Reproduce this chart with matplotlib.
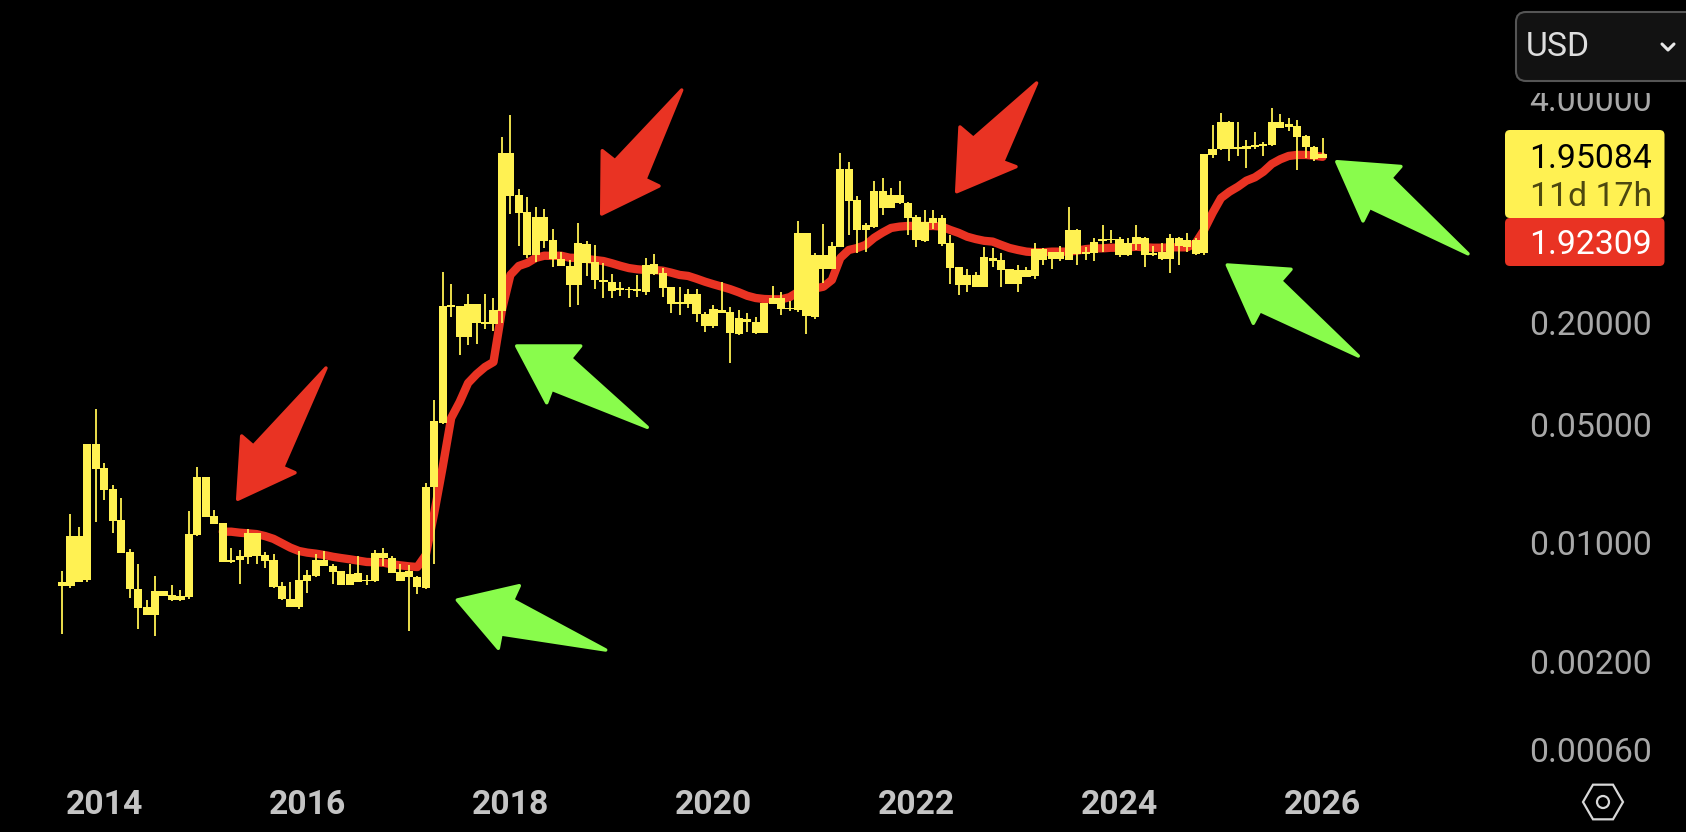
import numpy as np
import matplotlib
matplotlib.use('Agg')
import matplotlib.pyplot as plt
from matplotlib.patches import Polygon, FancyBboxPatch, RegularPolygon, Circle

plt.rcParams['font.family'] = ['Roboto', 'DejaVu Sans']

# monthly candles, first one is Aug 2013
high = [
    .00689, .01484, .01249, .03867, .06198, .02971, .02202, .01853, .00934, .00761,
    .00463, .00643, .00484, .00572, .0053, .01552, .02813, .02456, .01573, .0132,
    .00938, .00921, .0121, .01151, .00896, .00872, .00596, .0059, .00904, .00701,
    .00872, .00908, .00761, .00688, .00761, .00849, .00649, .00921, .00945, .00841,
    .00754, .00745, .00641, .02263, .07039, .402, .343, .252, .2996, .2615,
    .2996, .2837, 2.505, 3.38, 1.245, 1.107, .975, .94, .716, .5285,
    .472, .777, .6134, .5757, .455, .3895, .3485, .3285, .3843, .483,
    .5125, .4245, .3285, .3285, .3193, .3193, .233, .256, .3509, .25,
    .239, .2304, .218, .2642, .3317, .3078, .2693, .798, .686, .5217,
    .767, .6055, 2.016, 1.784, 1.128, .778, 1.378, 1.435, 1.253, 1.378,
    1.044, .871, .932, .932, .871, .663, .4308, .4157, .4027, .566,
    .5535, .5171, .4157, .4407, .4272, .5925, .5535, .5287, .5739, .967,
    .7165, .5609, .634, .76, .71, .6484, .634, .76, .6484, .5725,
    .5925, .6716, .6484, .6787, .634, 1.997, 2.963, 3.473, 3.14, 3.073,
    2.416, 2.706, 2.361, 3.716, 3.442, 3.245, 3.172, 2.6, 2.227, 2.472,
]
body_top = [
    .00593, .01105, .01105, .03867, .03867, .02788, .02104, .01374, .00888, .00542,
    .00421, .00523, .00523, .00495, .00488, .01135, .02456, .02456, .0145, .01313,
    .00804, .00841, .01151, .01151, .00853, .00796, .00562, .00473, .00607, .00649,
    .00796, .00796, .00741, .00688, .00664, .00671, .00612, .00884, .00884, .00826,
    .0068, .00684, .00631, .02143, .05264, .252, .2546, .252, .2615, .2615,
    .2027, .239, 2.015, 2.015, 1.137, .907, .843, .843, .619, .478,
    .436, .5916, .586, .46, .3625, .3525, .3223, .3207, .318, .443,
    .447, .3984, .3285, .2665, .2996, .2996, .2283, .2422, .239, .233,
    .2136, .2117, .2045, .2642, .2837, .2837, .2477, .678, .686, .5031,
    .505, .5725, 1.629, 1.629, 1.068, .76, 1.208, 1.208, 1.144, 1.144,
    1.03, .8435, .7956, .832, .836, .5925, .4308, .3836, .3836, .4945,
    .4833, .4727, .4157, .4119, .4119, .5465, .5465, .5287, .5287, .71,
    .71, .5264, .6055, .6265, .6265, .6265, .5925, .6425, .634, .5216,
    .5264, .6366, .6366, .62, .62, 1.997, 2.129, 3.073, 3.073, 2.187,
    2.227, 2.257, 2.288, 3.073, 3.073, 2.99, 2.929, 2.548, 2.187, 1.997,
]
body_bottom = [
    .00562, .00562, .00593, .00607, .02763, .02067, .01361, .0088, .00537, .00415,
    .00378, .00378, .00488, .00463, .00463, .0048, .0112, .01437, .01307, .00779,
    .00779, .00796, .00833, .00845, .00789, .00552, .00469, .00422, .00421, .00602,
    .00643, .00737, .0068, .0057, .0057, .0059, .00602, .00602, .00822, .00671,
    .00602, .00635, .00554, .00549, .02143, .0515, .25, .166, .165, .2009,
    .1972, .1972, .2368, 1.127, .899, .505, .505, .6134, .476, .436,
    .337, .337, .455, .359, .3525, .3107, .3135, .3135, .3107, .3051,
    .393, .3238, .2593, .2615, .2615, .2283, .1919, .1919, .2304, .1753,
    .1733, .2045, .1753, .1753, .2615, .2443, .2432, .239, .22, .218,
    .421, .419, .566, 1.059, .71, .71, .743, .962, .962, 1.021,
    .832, .62, .6143, .7853, .5873, .4245, .3344, .3344, .3255, .3255,
    .4676, .4119, .3405, .3405, .3763, .3798, .4727, .477, .4814, .4727,
    .5114, .5114, .5216, .6143, .62, .5025, .505, .587, .5025, .505,
    .4814, .4814, .5712, .566, .5114, .5167, 1.97, 2.129, 2.129, 2.146,
    2.146, 2.187, 2.227, 2.257, 2.832, 2.897, 2.527, 2.187, 1.857, 1.883,
]
low = [
    .00293, .00549, .00593, .00596, .01343, .01803, .01156, .0088, .00475, .00313,
    .00378, .00284, .00484, .00459, .00459, .00473, .01105, .01437, .01307, .00779,
    .00768, .00575, .00754, .00754, .00718, .00549, .00463, .00419, .00411, .00511,
    .00635, .00734, .00575, .0057, .0057, .0059, .0057, .00593, .00734, .00671,
    .00602, .00304, .00506, .00535, .00761, .0507, .218, .1295, .1486, .1506,
    .185, .18, .2009, .882, .5705, .483, .461, .553, .43, .434,
    .25, .256, .379, .3207, .2837, .2837, .2903, .2837, .2866, .2942,
    .3843, .2874, .2304, .2245, .2477, .2045, .1777, .1886, .2304, .1167,
    .1698, .1777, .1717, .1753, .2593, .2245, .2368, .2337, .1717, .2106,
    .3437, .419, .566, .663, .5216, .5287, .726, .871, .962, 1.012,
    .663, .5609, .6055, .7165, .5725, .3405, .2935, .3075, .3255, .3255,
    .4308, .3255, .3405, .3075, .3728, .3628, .4407, .421, .4676, .4727,
    .4407, .4727, .4676, .5287, .5925, .4945, .4986, .541, .4308, .4986,
    .4727, .3938, .4407, .5287, .5025, .505, 1.883, 2.11, 1.824, 1.95,
    1.658, 2.129, 1.95, 2.227, 2.832, 2.735, 1.606, 1.883, 1.824, 1.883,
]

# moving average starts at candle 19
ma_start = 19
ma = [
    .01174, .01174, .01158, .01148, .01136, .01106, .01065, .01004, .00945, .00903,
    .00883, .00871, .00855, .00835, .0082, .00807, .00792, .00778, .00775, .0077,
    .00753, .00743, .00733, .00726, .00855, .01516, .02835, .0551, .0685, .0887,
    .1, .1103, .118, .2394, .3857, .436, .4537, .486, .501, .4998,
    .501, .4875, .486, .479, .4727, .466, .4518, .4365, .4235, .4165,
    .4126, .4126, .4087, .398, .3857, .3805, .3666, .3519, .3397, .3287,
    .3175, .3046, .2905, .2818, .278, .277, .277, .285, .3057, .3143,
    .3208, .3287, .3601, .486, .5416, .5565, .5805, .639, .6866, .7307,
    .7444, .751, .751, .751, .751, .7444, .711, .683, .6486, .6285,
    .6135, .607, .5805, .5565, .5416, .5295, .5252, .5252, .5295, .5295,
    .5295, .5365, .548, .554, .554, .5585, .5585, .5617, .5666, .5617,
    .5585, .5585, .5617, .5617, .5617, .595, .711, .8955, 1.098, 1.197,
    1.281, 1.39, 1.455, 1.57, 1.745, 1.859, 1.946, 1.973, 1.973, 1.953,
    1.92309,
]

price_ticks = [4.0, 0.2, 0.05, 0.01, 0.002, 0.0006]
years = [2014, 2016, 2018, 2020, 2022, 2024, 2026]
last_price = '1.95084'
countdown = '11d 17h'
last_ma = '1.92309'

YELLOW = '#fff152'
RED = '#e93323'
GREEN = '#89fc4c'
GREY = '#a8a8a8'
FS = 24.3

# hand drawn arrows on top of the screenshot, in pixels
red_arrows = [
    [(237.7, 499.3), (241.7, 436), (253.3, 446), (326, 368), (282.7, 467.3), (295, 472.7)],
    [(601.7, 214), (602.3, 150.7), (615, 160.7), (681.7, 90), (645, 179.3), (659, 186)],
    [(956.7, 191.7), (960, 127), (973.3, 138.3), (1036.6, 83), (1002.7, 161.7), (1016, 166.7)],
]
green_arrows = [
    [(457.3, 600), (519.3, 585.7), (512.7, 600), (605.7, 650), (501, 634), (498.3, 648.3)],
    [(516.7, 346), (580.7, 346), (570.7, 358.3), (647.3, 427.3), (551.7, 389.3), (546.7, 402.7)],
    [(1227.3, 265), (1291, 269.3), (1280.7, 281), (1358.3, 356), (1260, 310.7), (1253.3, 323.3)],
    [(1336.8, 161.7), (1400.9, 166.5), (1390.9, 177.9), (1468, 253.8), (1369.7, 207.4), (1363, 220.9)],
]

fig = plt.figure(figsize=(16.86, 8.32), dpi=100, facecolor='black')

# price axis
ax = fig.add_axes([0, 0, 1, 1], facecolor='black')
n = np.arange(len(high))
ax.plot(n[ma_start:], ma, color=RED, lw=6, solid_capstyle='round', zorder=1)
ax.vlines(n, low, high, color=YELLOW, lw=1.3, zorder=2)
bot = np.array(body_bottom)
ax.bar(n, np.array(body_top) - bot, bottom=bot, width=0.97, color=YELLOW, lw=0, zorder=3)
ax.set_yscale('log')
ax.set_xlim(-7.33, 191.96)
ax.set_ylim(1.976e-4, 16.23)
ax.axis('off')

for p in price_ticks:
    # top label sits a little higher than its tick
    dy = 1 if p == 4.0 else -2
    ax.annotate(f'{p:.5f}', (1652 / 1686, p), xycoords=ax.get_yaxis_transform(),
                xytext=(0, dy), textcoords='offset points', color=GREY, fontsize=FS,
                ha='right', va='center', zorder=4)
for y in years:
    ax.text((y - 2013) * 12 - 7, 27 / 832, str(y), transform=ax.get_xaxis_transform(),
            color='#c4c4c4', fontsize=FS, fontweight='bold', ha='center', va='center')

# overlay in pixels for the badges and arrows
over = fig.add_axes([0, 0, 1, 1], facecolor='none')
over.set_xlim(0, 1686)
over.set_ylim(832, 0)
over.axis('off')

for pts in red_arrows:
    over.add_patch(Polygon(pts, closed=True, fc=RED, ec=RED, lw=2.5, joinstyle='round'))
for pts in green_arrows:
    over.add_patch(Polygon(pts, closed=True, fc=GREEN, ec=GREEN, lw=2.5, joinstyle='round'))

# the currency selector hides the top of the first tick label
over.add_patch(plt.Rectangle((1500, 0), 186, 93, fc='black', ec='none'))
over.add_patch(FancyBboxPatch((1522, 18), 170, 57, boxstyle='round,pad=6,rounding_size=10',
                              fc='#121212', ec='#555555', lw=1.5))
over.text(1526, 47, 'USD', color='#dedede', fontsize=FS, ha='left', va='center')
over.plot([1662, 1668, 1674], [44, 50, 44], color='#e8e8e8', lw=2.2, solid_capstyle='round')

over.add_patch(FancyBboxPatch((1508, 133), 153.5, 82, boxstyle='round,pad=3,rounding_size=5',
                              fc=YELLOW, ec='none'))
over.add_patch(FancyBboxPatch((1508, 221), 153.5, 42, boxstyle='round,pad=3,rounding_size=5',
                              fc=RED, ec='none'))
over.text(1652, 159, last_price, color='black', fontsize=FS, ha='right', va='center')
over.text(1652, 197, countdown, color='#4d4810', fontsize=FS, ha='right', va='center')
over.text(1652, 245.5, last_ma, color='white', fontsize=FS, ha='right', va='center')

# settings icon
over.add_patch(RegularPolygon((1603, 802), 6, radius=20, orientation=np.pi / 2,
                              fc='none', ec='#d8d8d8', lw=1.6))
over.add_patch(Circle((1603, 802), 6, fc='none', ec='#d8d8d8', lw=1.6))

fig.savefig('out.png', dpi=100, facecolor='black')
